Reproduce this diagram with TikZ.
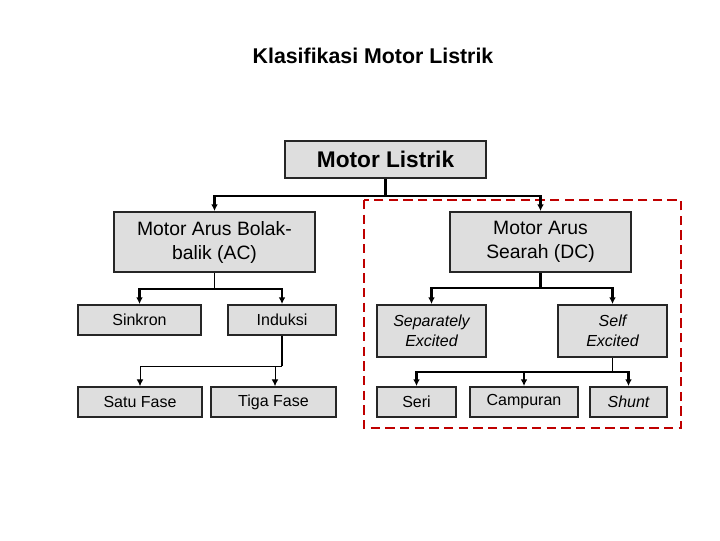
\documentclass[tikz,border=0pt]{standalone}
\usepackage{fontspec}
\setmainfont{Liberation Sans}
\usetikzlibrary{arrows.meta}
\begin{document}
\begin{tikzpicture}[x=0.75pt,y=-0.75pt,
  box/.style={draw=black!85,line width=1.4pt,fill=black!13,inner sep=0pt,align=center},
  big/.style={font=\fontsize{14.5}{18}\selectfont},
  sml/.style={font=\fontsize{12}{15}\selectfont},
  smi/.style={font=\fontsize{12}{15}\selectfont\itshape},
  thk/.style={line width=1.6pt},
  thn/.style={line width=0.6pt},
  arr/.style={-{Latex[length=5pt,width=5pt]}}]
\useasboundingbox (0,0) rectangle (720,540);
\node[font=\fontsize{16}{19}\selectfont\bfseries] (title) at (373,56) {Klasifikasi Motor Listrik};
\newcommand{\bx}[7]{\node[box,#7,minimum width={(#4-#2)*0.75pt},minimum height={(#5-#3)*0.75pt}] (#1) at ({(#2+#4)/2},{(#3+#5)/2}) {#6};}
\bx{ml}{285}{141}{486}{178}{Motor Listrik}{font=\fontsize{17}{20}\selectfont\bfseries}
\bx{ac}{114}{212}{315}{272}{Motor Arus Bolak-\\balik (AC)}{big}
\bx{dc}{450}{212}{631}{272}{Motor Arus\\Searah (DC)}{big}
\bx{sk}{78}{305}{201}{335}{Sinkron}{sml}
\bx{in}{228}{305}{336}{335}{Induksi}{sml}
\bx{se}{377}{305}{486}{357}{Separately\\Excited}{smi}
\bx{sf}{558}{305}{667}{357}{Self\\Excited}{smi}
\bx{sa}{78}{387}{202}{417}{Satu Fase}{sml}
\bx{ti}{211}{387}{336}{417}{Tiga Fase}{sml}
\bx{sr}{377}{387}{456}{417}{Seri}{sml}
\bx{cp}{470}{387}{578}{417}{Campuran}{sml}
\bx{sh}{590}{387}{667}{417}{Shunt}{smi}
\draw[red!75!black,line width=2pt,dash pattern=on 7pt off 4pt] (364,200) rectangle (681,428);
\coordinate (y1) at (0,196);
\coordinate (y2) at (0,289);
\coordinate (y3) at (0,366);
\coordinate (y4) at (0,288);
\coordinate (y5) at (0,372);
\draw[thk] (ml.south) -- (ml.south |- y1) coordinate (j1);
\draw[thk,arr] (j1) -| (ac.north);
\draw[thk,arr] (j1) -| (dc.north);
\draw[thn] (ac.south) -- (ac.south |- y2) coordinate (j2);
\draw[thk,arr] (j2) -| (sk.north);
\draw[thk,arr] (j2) -| (in.north);
\draw[thk] (in.south) -- (in.south |- y3) coordinate (j3);
\draw[thn,arr] (j3) -| (sa.north);
\coordinate (j3b) at (275,366);
\draw[thn,arr] (j3b) -- (j3b |- ti.north);
\draw[thk] (dc.south) -- (dc.south |- y4) coordinate (j4);
\draw[thk,arr] (j4) -| (se.north);
\draw[thk,arr] (j4) -| (sf.north);
\draw[thn] (sf.south) -- (sf.south |- y5) coordinate (j5);
\draw[thk,arr] (j5) -| (sr.north);
\draw[thk,arr] (j5) -| (sh.north);
\draw[thk,arr] (cp.north |- j5) -- (cp.north);
\end{tikzpicture}
\end{document}
